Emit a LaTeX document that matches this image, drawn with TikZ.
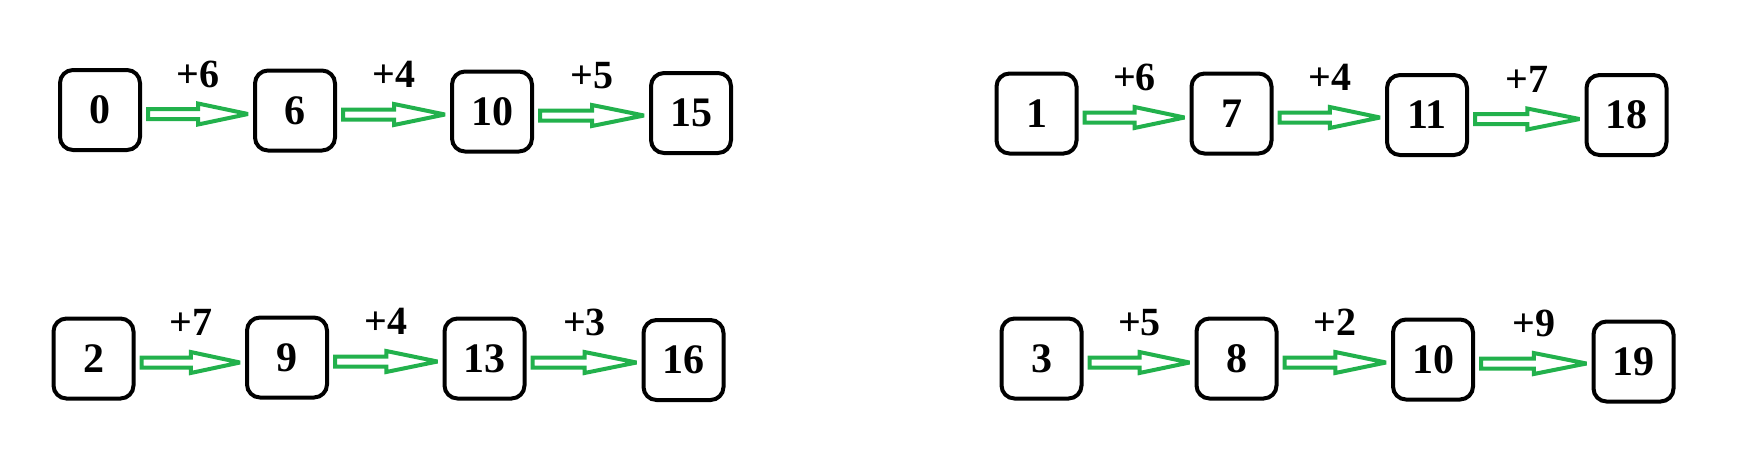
\documentclass[tikz,border=0pt]{standalone}
\usepackage{fontspec}
\setmainfont{Liberation Serif}
\usetikzlibrary{calc}
\definecolor{arrgreen}{RGB}{34,177,76}
\tikzset{
  numbox/.style={draw=black, line width=4pt, rounded corners=13pt,
    minimum width=80pt, minimum height=80pt, inner sep=0pt,
    font=\fontsize{42}{42}\selectfont\bfseries},
  lbl/.style={inner sep=0pt, font=\fontsize{40}{40}\selectfont\bfseries},
  hollowarrow/.style={draw=arrgreen, line width=4pt, line join=miter, miter limit=3}
}
\newcommand\plusarrow[3]{%
  \coordinate (s) at ($(#1.east)+(6,4)$);
  \coordinate (t) at ($(s -| #2.west)+(-5,0)$);
  \coordinate (h) at ($(s)!0.5!(t)$);
  \draw[hollowarrow] ($(s)+(0,-5)$) -- ($(h)+(0,-5)$) -- ($(h)+(0,-10.5)$) -- (t)
    -- ($(h)+(0,10.5)$) -- ($(h)+(0,5)$) -- ($(s)+(0,5)$) -- cycle;
  \node[lbl] at ($(h)+(0,-40)$) {#3};
}
\begin{document}
\begin{tikzpicture}[x=1pt,y=-1pt]
\useasboundingbox (0,0) rectangle (1750,467);
% row 1 left
\node[numbox] (a0) at (100,110) {0};
\node[numbox] (a1) at (295,110.5) {6};
\node[numbox] (a2) at (492,111.5) {10};
\node[numbox] (a3) at (691,113) {15};
% row 1 right
\node[numbox] (b0) at (1036.5,113.5) {1};
\node[numbox] (b1) at (1231.5,113.5) {7};
\node[numbox] (b2) at (1427,115) {11};
\node[numbox] (b3) at (1626.5,115) {18};
% row 2 left
\node[numbox] (c0) at (93.5,358.5) {2};
\node[numbox] (c1) at (287,357.5) {9};
\node[numbox] (c2) at (484.5,358.5) {13};
\node[numbox] (c3) at (683.5,360) {16};
% row 2 right
\node[numbox] (d0) at (1041.5,358.5) {3};
\node[numbox] (d1) at (1236.5,358.5) {8};
\node[numbox] (d2) at (1433,359.5) {10};
\node[numbox] (d3) at (1633.5,361.5) {19};
\plusarrow{a0}{a1}{+6}
\plusarrow{a1}{a2}{+4}
\plusarrow{a2}{a3}{+5}
\plusarrow{b0}{b1}{+6}
\plusarrow{b1}{b2}{+4}
\plusarrow{b2}{b3}{+7}
\plusarrow{c0}{c1}{+7}
\plusarrow{c1}{c2}{+4}
\plusarrow{c2}{c3}{+3}
\plusarrow{d0}{d1}{+5}
\plusarrow{d1}{d2}{+2}
\plusarrow{d2}{d3}{+9}
\end{tikzpicture}
\end{document}
